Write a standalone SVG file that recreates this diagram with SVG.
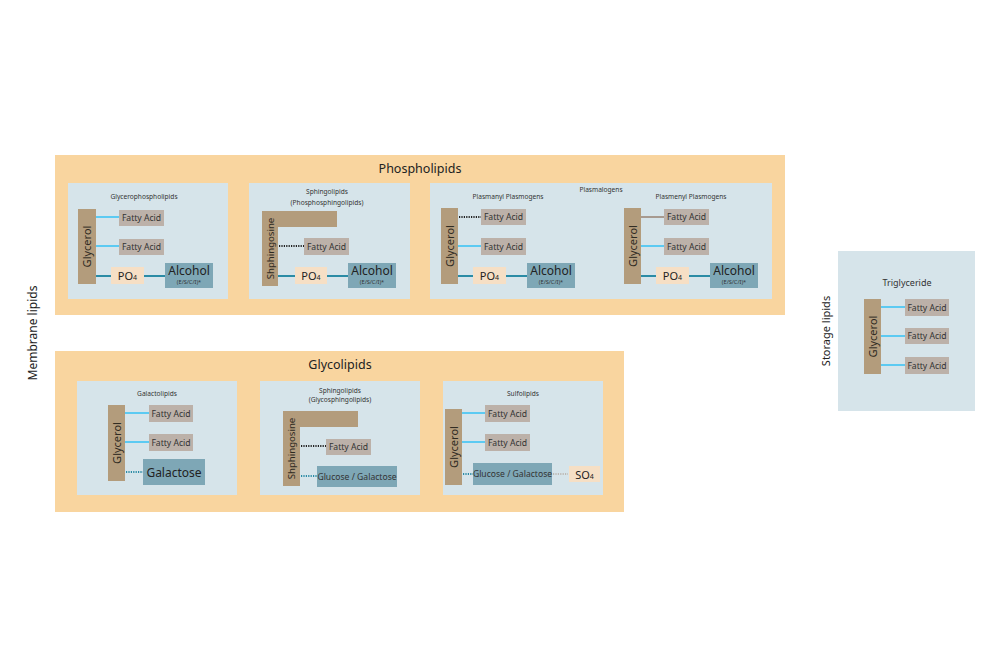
<svg xmlns="http://www.w3.org/2000/svg" width="1000" height="667" viewBox="0 0 1000 667">
<style>
text{font-family:"Noto Sans","Open Sans","Liberation Sans",sans-serif;fill:#2f2f2f}
.outer{fill:#f9d59f}
.panel{fill:#d6e4ea}
.bar{fill:#b39c7c}
.fa{fill:#bcb1a9}
.po{fill:#f6dfc5}
.alc{fill:#7ea7b6}
.t-fa{font-size:8.6px;text-anchor:middle;fill:#333}
.t-bar{font-size:11px;text-anchor:middle;fill:#2e2a22}
.t-sph{font-size:9.6px;text-anchor:middle;fill:#2e2a22}
.t-small{font-size:6.6px;text-anchor:middle;fill:#333}
.t-title{font-size:12.5px;text-anchor:middle;fill:#222}
.t-alc{font-size:12px;text-anchor:middle;fill:#222}
.t-alcs{font-size:5.6px;text-anchor:middle;fill:#333}
.t-po{font-size:11px;text-anchor:middle;fill:#222}
.t-side{font-size:12px;text-anchor:middle;fill:#222}
.lb{stroke:#5ccaf2;stroke-width:2;fill:none}
.dk{stroke:#2a8ba5;stroke-width:2;fill:none}
.dot{stroke:#222;stroke-width:2;stroke-dasharray:1.2 1.2;fill:none}
.dott{stroke:#2a8ba5;stroke-width:2;stroke-dasharray:1.2 1.2;fill:none}
.dotg{stroke:#b5aaa2;stroke-width:1.5;stroke-dasharray:1.2 1.2;fill:none}
.gr{stroke:#a79a90;stroke-width:2;fill:none}
</style>

<g id="side-labels">
<text class="t-side" transform="translate(37,333) rotate(-90)">Membrane lipids</text>
<text class="t-side" transform="translate(830,331) rotate(-90)" style="font-size:11px">Storage lipids</text>
</g>

<g id="phospholipids">
<rect class="outer" x="55" y="155" width="730" height="160"/>
<text class="t-title" x="420" y="173">Phospholipids</text>
</g>

<g id="glycolipids">
<rect class="outer" x="55" y="351" width="569" height="161"/>
<text class="t-title" x="340" y="369">Glycolipids</text>
</g>

<g id="glycerophospholipids">
<rect class="panel" x="68" y="183" width="160" height="116"/>
<text class="t-small" x="144" y="199">Glycerophospholipids</text>
<rect class="bar" x="78" y="209" width="18" height="75"/>
<text class="t-bar" transform="translate(91,246.5) rotate(-90)">Glycerol</text>
<rect class="fa" x="119" y="210" width="45" height="16"/>
<text class="t-fa" x="141.5" y="221">Fatty Acid</text>
<rect class="fa" x="119" y="239" width="45" height="16"/>
<text class="t-fa" x="141.5" y="250">Fatty Acid</text>
<rect class="po" x="111" y="267" width="33" height="17"/>
<text class="t-po" x="127.5" y="280">PO<tspan font-size="7">4</tspan></text>
<rect class="alc" x="165" y="263" width="48" height="25"/>
<text class="t-alc" x="189" y="275">Alcohol</text>
<text class="t-alcs" x="189" y="284">(E/S/C/I)*</text>
</g>

<g id="phosphosphingolipids">
<rect class="panel" x="249" y="183" width="161" height="116"/>
<text class="t-small" x="327" y="194">Sphingolipids</text>
<text class="t-small" x="327" y="205">(Phosphosphingolipids)</text>
<path class="bar" d="M262 211 H337 V227 H278 V286 H262 Z"/>
<text class="t-sph" transform="translate(273.5,248.5) rotate(-90)">Shphingosine</text>
<rect class="fa" x="304" y="238" width="45" height="17"/>
<text class="t-fa" x="326.5" y="249.5">Fatty Acid</text>
<rect class="po" x="295" y="267" width="32" height="17"/>
<text class="t-po" x="311" y="280">PO<tspan font-size="7">4</tspan></text>
<rect class="alc" x="348" y="263" width="48" height="25"/>
<text class="t-alc" x="372" y="275">Alcohol</text>
<text class="t-alcs" x="372" y="284">(E/S/C/I)*</text>
</g>

<g id="plasmalogens">
<rect class="panel" x="430" y="183" width="342" height="116"/>
<text class="t-small" x="601" y="191.5">Plasmalogens</text>
<text class="t-small" x="508" y="199">Plasmanyl Plasmogens</text>
<text class="t-small" x="691" y="199">Plasmenyl Plasmogens</text>
<rect class="bar" x="441" y="208" width="17" height="76"/>
<text class="t-bar" transform="translate(453.5,246) rotate(-90)">Glycerol</text>
<rect class="fa" x="481" y="209" width="45" height="16"/>
<text class="t-fa" x="503.5" y="220">Fatty Acid</text>
<rect class="fa" x="481" y="238" width="45" height="17"/>
<text class="t-fa" x="503.5" y="249.5">Fatty Acid</text>
<rect class="po" x="473" y="267" width="33" height="17"/>
<text class="t-po" x="489.5" y="280">PO<tspan font-size="7">4</tspan></text>
<rect class="alc" x="527" y="263" width="48" height="25"/>
<text class="t-alc" x="551" y="275">Alcohol</text>
<text class="t-alcs" x="551" y="284">(E/S/C/I)*</text>
<rect class="bar" x="624" y="208" width="17" height="76"/>
<text class="t-bar" transform="translate(636.5,246) rotate(-90)">Glycerol</text>
<rect class="fa" x="664" y="209" width="45" height="16"/>
<text class="t-fa" x="686.5" y="220">Fatty Acid</text>
<rect class="fa" x="664" y="238" width="45" height="17"/>
<text class="t-fa" x="686.5" y="249.5">Fatty Acid</text>
<rect class="po" x="656" y="267" width="33" height="17"/>
<text class="t-po" x="672.5" y="280">PO<tspan font-size="7">4</tspan></text>
<rect class="alc" x="710" y="263" width="48" height="25"/>
<text class="t-alc" x="734" y="275">Alcohol</text>
<text class="t-alcs" x="734" y="284">(E/S/C/I)*</text>
</g>

<g id="galactolipids">
<rect class="panel" x="77" y="381" width="160" height="114"/>
<text class="t-small" x="157" y="396">Galactolipids</text>
<rect class="bar" x="108" y="405" width="17" height="76"/>
<text class="t-bar" transform="translate(120.5,443) rotate(-90)">Glycerol</text>
<rect class="fa" x="149" y="405" width="44" height="17"/>
<text class="t-fa" x="171" y="416.5">Fatty Acid</text>
<rect class="fa" x="149" y="434" width="44" height="17"/>
<text class="t-fa" x="171" y="445.5">Fatty Acid</text>
<rect class="alc" x="143" y="459" width="62" height="26"/>
<text class="t-alc" x="174" y="476.5">Galactose</text>
</g>

<g id="glycosphingolipids">
<rect class="panel" x="260" y="381" width="160" height="114"/>
<text class="t-small" x="340" y="393">Sphingolipids</text>
<text class="t-small" x="340" y="402">(Glycosphingolipids)</text>
<path class="bar" d="M283 411 H358 V427 H300 V486 H283 Z"/>
<text class="t-sph" transform="translate(295,448.5) rotate(-90)">Shphingosine</text>
<rect class="fa" x="326" y="439" width="45" height="16"/>
<text class="t-fa" x="348.5" y="450">Fatty Acid</text>
<rect class="alc" x="317" y="466" width="80" height="21"/>
<text class="t-fa" x="357" y="479.5">Glucose / Galactose</text>
</g>

<g id="sulfolipids">
<rect class="panel" x="443" y="381" width="160" height="114"/>
<text class="t-small" x="523" y="396">Sulfolipids</text>
<rect class="bar" x="445" y="409" width="17" height="76"/>
<text class="t-bar" transform="translate(457.5,447) rotate(-90)">Glycerol</text>
<rect class="fa" x="485" y="405" width="45" height="17"/>
<text class="t-fa" x="507.5" y="416.5">Fatty Acid</text>
<rect class="fa" x="485" y="434" width="45" height="17"/>
<text class="t-fa" x="507.5" y="445.5">Fatty Acid</text>
<rect class="alc" x="473" y="463" width="79" height="22"/>
<text class="t-fa" x="512.5" y="477">Glucose / Galactose</text>
<rect class="po" x="569" y="466" width="31" height="16"/>
<text class="t-po" x="584.5" y="478.5">SO<tspan font-size="7">4</tspan></text>
</g>

<g id="triglyceride">
<rect class="panel" x="838" y="251" width="137" height="160"/>
<text class="t-fa" x="907" y="286" style="font-size:9px">Triglyceride</text>
<rect class="bar" x="864" y="299" width="17" height="75"/>
<text class="t-bar" transform="translate(876.5,336.5) rotate(-90)">Glycerol</text>
<rect class="fa" x="905" y="299" width="44" height="17"/>
<text class="t-fa" x="927" y="310.5">Fatty Acid</text>
<rect class="fa" x="905" y="328" width="44" height="16"/>
<text class="t-fa" x="927" y="339">Fatty Acid</text>
<rect class="fa" x="905" y="357" width="44" height="17"/>
<text class="t-fa" x="927" y="368.5">Fatty Acid</text>
</g>

<g id="connectors">
<line class="lb" x1="96" y1="217" x2="119" y2="217"/>
<line class="lb" x1="96" y1="246" x2="119" y2="246"/>
<line class="dk" x1="96" y1="276" x2="111" y2="276"/>
<line class="dk" x1="144" y1="276" x2="165" y2="276"/>
<line class="dot" x1="279" y1="246" x2="304" y2="246"/>
<line class="dk" x1="278" y1="276" x2="295" y2="276"/>
<line class="dk" x1="327" y1="276" x2="348" y2="276"/>
<line class="dot" x1="459" y1="217" x2="481" y2="217"/>
<line class="lb" x1="458" y1="246" x2="481" y2="246"/>
<line class="dk" x1="458" y1="276" x2="473" y2="276"/>
<line class="dk" x1="506" y1="276" x2="527" y2="276"/>
<line class="gr" x1="641" y1="217" x2="664" y2="217"/>
<line class="lb" x1="641" y1="246" x2="664" y2="246"/>
<line class="dk" x1="641" y1="276" x2="656" y2="276"/>
<line class="dk" x1="689" y1="276" x2="710" y2="276"/>
<line class="lb" x1="125" y1="413" x2="149" y2="413"/>
<line class="lb" x1="125" y1="442" x2="149" y2="442"/>
<line class="dott" x1="126" y1="472" x2="143" y2="472"/>
<line class="dot" x1="301" y1="446" x2="326" y2="446"/>
<line class="dott" x1="301" y1="476" x2="317" y2="476"/>
<line class="lb" x1="462" y1="413" x2="485" y2="413"/>
<line class="lb" x1="462" y1="442" x2="485" y2="442"/>
<line class="dott" x1="463" y1="474" x2="473" y2="474"/>
<line class="dotg" x1="553" y1="474" x2="568" y2="474"/>
<line class="lb" x1="881" y1="307" x2="905" y2="307"/>
<line class="lb" x1="881" y1="336" x2="905" y2="336"/>
<line class="lb" x1="881" y1="365" x2="905" y2="365"/>
</g>
</svg>
